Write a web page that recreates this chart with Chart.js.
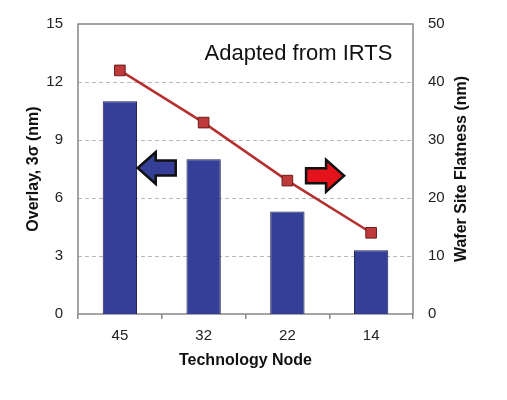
<!DOCTYPE html>
<html>
<head>
<meta charset="utf-8">
<script src="https://cdn.jsdelivr.net/npm/chart.js@4/dist/chart.umd.min.js"></script>
<style>
html,body{margin:0;padding:0;background:#fff;}
#c{display:block;}
</style>
</head>
<body>
<canvas id="c" width="507" height="400"></canvas>
<script>
// ---- data ----
const categories = ["45", "32", "22", "14"];
const overlayValues = [11, 8, 5.3, 3.3];          // left axis, nm (bars)
const flatnessValues = [42, 33, 23, 14];          // right axis, nm (line)
const leftTicks = [0, 3, 6, 9, 12, 15];
const rightTicks = [0, 10, 20, 30, 40, 50];

const leftTitle = "Overlay, 3σ (nm)";
const rightTitle = "Wafer Site Flatness (nm)";
const xTitle = "Technology Node";
const noteText = "Adapted from IRTS";

// annotation arrows, placed in data coordinates (category index, left-axis value)
const arrowNotes = [
  {at: 0.44, value: 7.55, dir: -1, color: "#363F98"},
  {at: 2.45, value: 7.15, dir: 1, color: "#E3121B"}
];

const FONT = "'Liberation Sans', Arial, sans-serif";

const extras = {
  id: "extras",
  beforeDatasetsDraw(chart) {
    const {ctx, chartArea: a, scales} = chart;
    const ys = scales.y;
    ctx.save();
    ctx.strokeStyle = "#b8b8b8";
    ctx.lineWidth = 1;
    ctx.setLineDash([4, 3]);
    leftTicks.forEach(v => {
      if (v === leftTicks[0] || v === leftTicks[leftTicks.length - 1]) return;
      const y = Math.round(ys.getPixelForValue(v)) + 0.5;
      ctx.beginPath();
      ctx.moveTo(a.left, y);
      ctx.lineTo(a.right, y);
      ctx.stroke();
    });
    ctx.setLineDash([]);
    ctx.strokeStyle = "#888";
    ctx.lineWidth = 1.5;
    ctx.strokeRect(a.left, a.top, a.right - a.left, a.bottom - a.top);
    ctx.restore();
  },
  afterDatasetsDraw(chart) {
    const {ctx, chartArea: a, scales} = chart;
    const xs = scales.x, ys = scales.y;
    ctx.save();
    // arrows
    arrowNotes.forEach(n => {
      const i0 = Math.floor(n.at);
      const frac = n.at - i0;
      const cx = xs.getPixelForValue(i0) + frac * (xs.getPixelForValue(i0 + 1) - xs.getPixelForValue(i0));
      const cy = ys.getPixelForValue(n.value);
      const L = 38, H = 32, sh = 15, hl = 18;
      const d = n.dir;
      const tipX = cx + d * L / 2, tailX = cx - d * L / 2, baseX = tipX - d * hl;
      ctx.beginPath();
      ctx.moveTo(tipX, cy);
      ctx.lineTo(baseX, cy - H / 2);
      ctx.lineTo(baseX, cy - sh / 2);
      ctx.lineTo(tailX, cy - sh / 2);
      ctx.lineTo(tailX, cy + sh / 2);
      ctx.lineTo(baseX, cy + sh / 2);
      ctx.lineTo(baseX, cy + H / 2);
      ctx.closePath();
      ctx.fillStyle = n.color;
      ctx.fill();
      ctx.lineWidth = 2.5;
      ctx.lineJoin = "miter";
      ctx.strokeStyle = "#111";
      ctx.stroke();
    });
    // note text
    ctx.fillStyle = "#111";
    ctx.font = "22px " + FONT;
    ctx.textAlign = "center";
    ctx.textBaseline = "alphabetic";
    ctx.fillText(noteText, (a.left + a.right) / 2 + 53, a.top + 36);
    // right title (reads bottom to top)
    ctx.font = "bold 16px " + FONT;
    ctx.translate(462, (a.top + a.bottom) / 2);
    ctx.rotate(-Math.PI / 2);
    ctx.textBaseline = "middle";
    ctx.fillText(rightTitle, 0, 0);
    ctx.restore();
  }
};

new Chart(document.getElementById("c"), {
  data: {
    labels: categories,
    datasets: [
      {
        type: "line",
        data: flatnessValues,
        yAxisID: "y1",
        borderColor: "#B5302F",
        borderWidth: 2.5,
        pointStyle: "rect",
        pointRadius: 7.5,
        pointBackgroundColor: "#C0393B",
        pointBorderColor: "#6b1a1a",
        pointBorderWidth: 1,
        order: 0
      },
      {
        type: "bar",
        data: overlayValues,
        yAxisID: "y",
        backgroundColor: "#363F98",
        borderColor: "#1c1f45",
        borderWidth: 1,
        categoryPercentage: 1,
        barPercentage: 0.41,
        order: 1
      }
    ]
  },
  options: {
    responsive: false,
    animation: false,
    devicePixelRatio: 1,
    layout: {padding: {top: 24, left: 0, right: 0, bottom: 0}},
    plugins: {legend: {display: false}, tooltip: {enabled: false}},
    scales: {
      x: {
        type: "category",
        position: "bottom",
        offset: true,
        grid: {display: true, drawOnChartArea: false, drawTicks: true, tickLength: 5, color: "#888", lineWidth: 1.5, offset: true},
        border: {display: false},
        ticks: {font: {family: FONT, size: 15}, color: "#222", padding: 8},
        title: {display: true, text: xTitle, color: "#111", font: {family: FONT, size: 16, weight: "bold"}, padding: {top: 0, bottom: 30}},
        afterFit: s => { s.height = 86; }
      },
      y: {
        position: "left",
        min: 0, max: 15,
        afterBuildTicks: s => { s.ticks = leftTicks.map(v => ({value: v})); },
        grid: {display: false, drawTicks: false},
        border: {display: false},
        ticks: {font: {family: FONT, size: 15}, color: "#222", padding: 15},
        title: {display: true, text: leftTitle, color: "#111", font: {family: FONT, size: 16, weight: "bold"}, padding: {top: 24, bottom: 0}},
        afterFit: s => { s.width = 78; }
      },
      y1: {
        position: "right",
        min: 0, max: 50,
        afterBuildTicks: s => { s.ticks = rightTicks.map(v => ({value: v})); },
        grid: {display: false, drawTicks: false},
        border: {display: false},
        ticks: {font: {family: FONT, size: 15}, color: "#222", padding: 15},
        afterFit: s => { s.width = 94; }
      }
    }
  },
  plugins: [extras]
});
</script>
</body>
</html>
